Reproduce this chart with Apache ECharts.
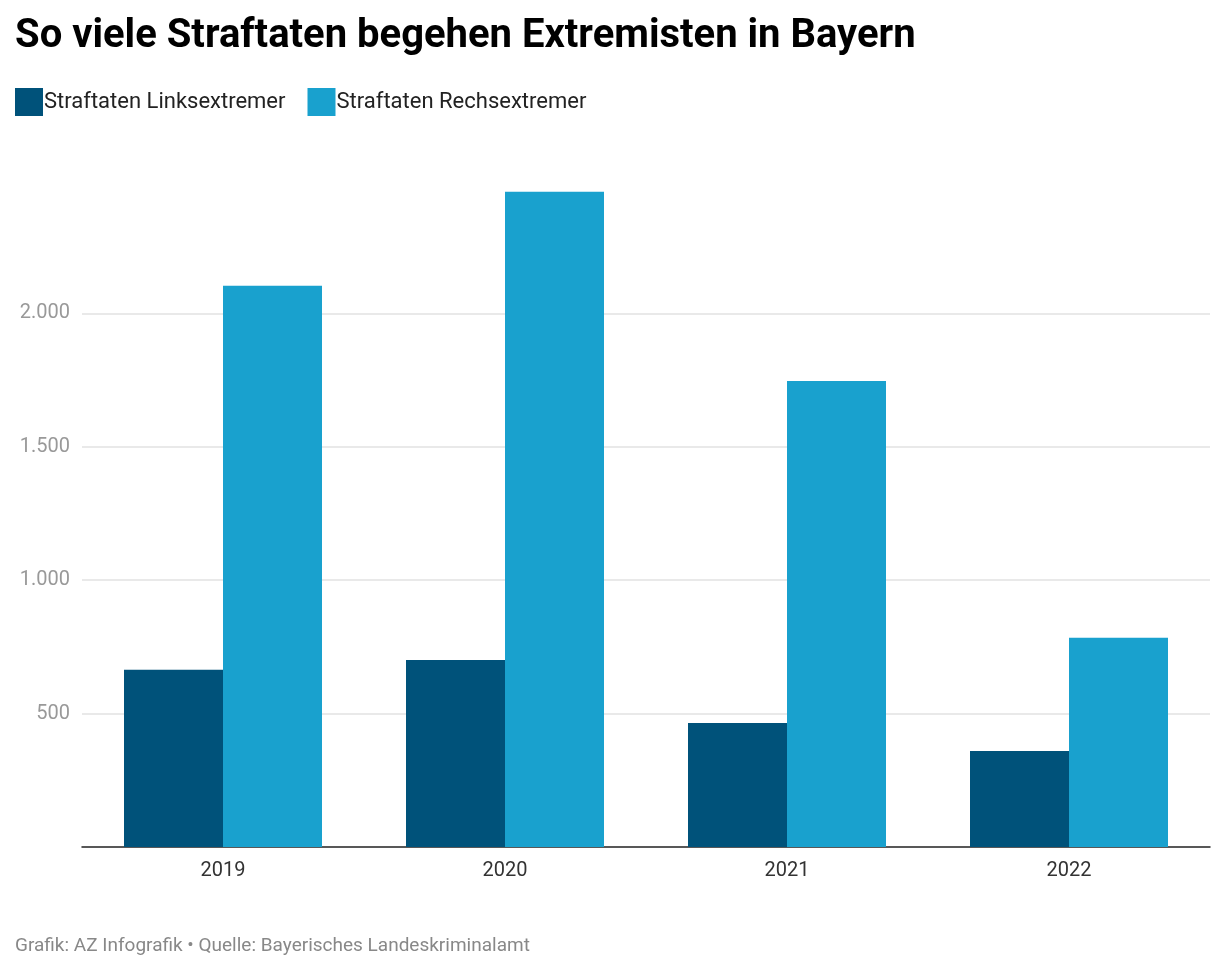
<!DOCTYPE html>
<html><head><meta charset="utf-8">
<script src="https://cdn.jsdelivr.net/npm/echarts@6/dist/echarts.min.js"></script>
<style>html,body{margin:0;padding:0;background:#fff}#c{width:1220px;height:970px}</style>
</head><body><div id="c"></div>
<script>
var years = ['2019', '2020', '2021', '2022'];
var links = [664, 701, 465, 360];
var rechts = [2104, 2456, 1747, 784];
var gridTicks = [500, 1000, 1500, 2000];

var chart = echarts.init(document.getElementById('c'));
chart.setOption({
    animation: false,
    textStyle: { fontFamily: 'Roboto' },
    title: [{
        text: 'So viele Straftaten begehen Extremisten in Bayern',
        left: 10, top: 12,
        textStyle: { fontSize: 40, fontWeight: 'bold', color: '#000', fontFamily: 'Roboto' }
    }, {
        text: 'Grafik: AZ Infografik • Quelle: Bayerisches Landeskriminalamt',
        left: 10, top: 932,
        textStyle: { fontSize: 19, fontWeight: 'normal', color: '#888', fontFamily: 'Roboto' }
    }],
    legend: {
        left: 10, top: 83, itemWidth: 28, itemHeight: 28, itemGap: 22,
        icon: 'rect',
        textStyle: { fontSize: 22, color: '#222', padding: [0, 0, 0, -4] },
        data: ['Straftaten Linksextremer', 'Straftaten Rechsextremer']
    },
    grid: { left: 82, right: 10, top: 180, bottom: 123 },
    xAxis: {
        type: 'category', data: years,
        axisLine: { lineStyle: { color: '#222', width: 1.5 } },
        axisTick: { show: false },
        axisLabel: { fontSize: 20, color: '#333', margin: 14 }
    },
    yAxis: {
        type: 'value', min: 0, max: 2500, interval: 500,
        splitLine: { show: false },
        axisLine: { show: false }, axisTick: { show: false },
        axisLabel: {
            fontSize: 20, color: '#999', margin: 12,
            formatter: function (v) {
                if (v === 0 || v === 2500) return '';
                return v.toLocaleString('de-DE');
            }
        }
    },
    series: [{
        name: 'Straftaten Linksextremer', type: 'bar', data: links,
        barWidth: 99, barGap: '0%',
        itemStyle: { color: '#00527a' },
        z: 3,
        markLine: {
            silent: true, symbol: 'none', label: { show: false },
            lineStyle: { color: '#e2e2e2', type: 'solid', width: 1.5 },
            data: gridTicks.map(function (t) { return { yAxis: t }; }),
            z: 1
        }
    }, {
        name: 'Straftaten Rechsextremer', type: 'bar', data: rechts,
        barWidth: 99,
        itemStyle: { color: '#19a1ce' },
        z: 3
    }]
});
</script></body></html>
